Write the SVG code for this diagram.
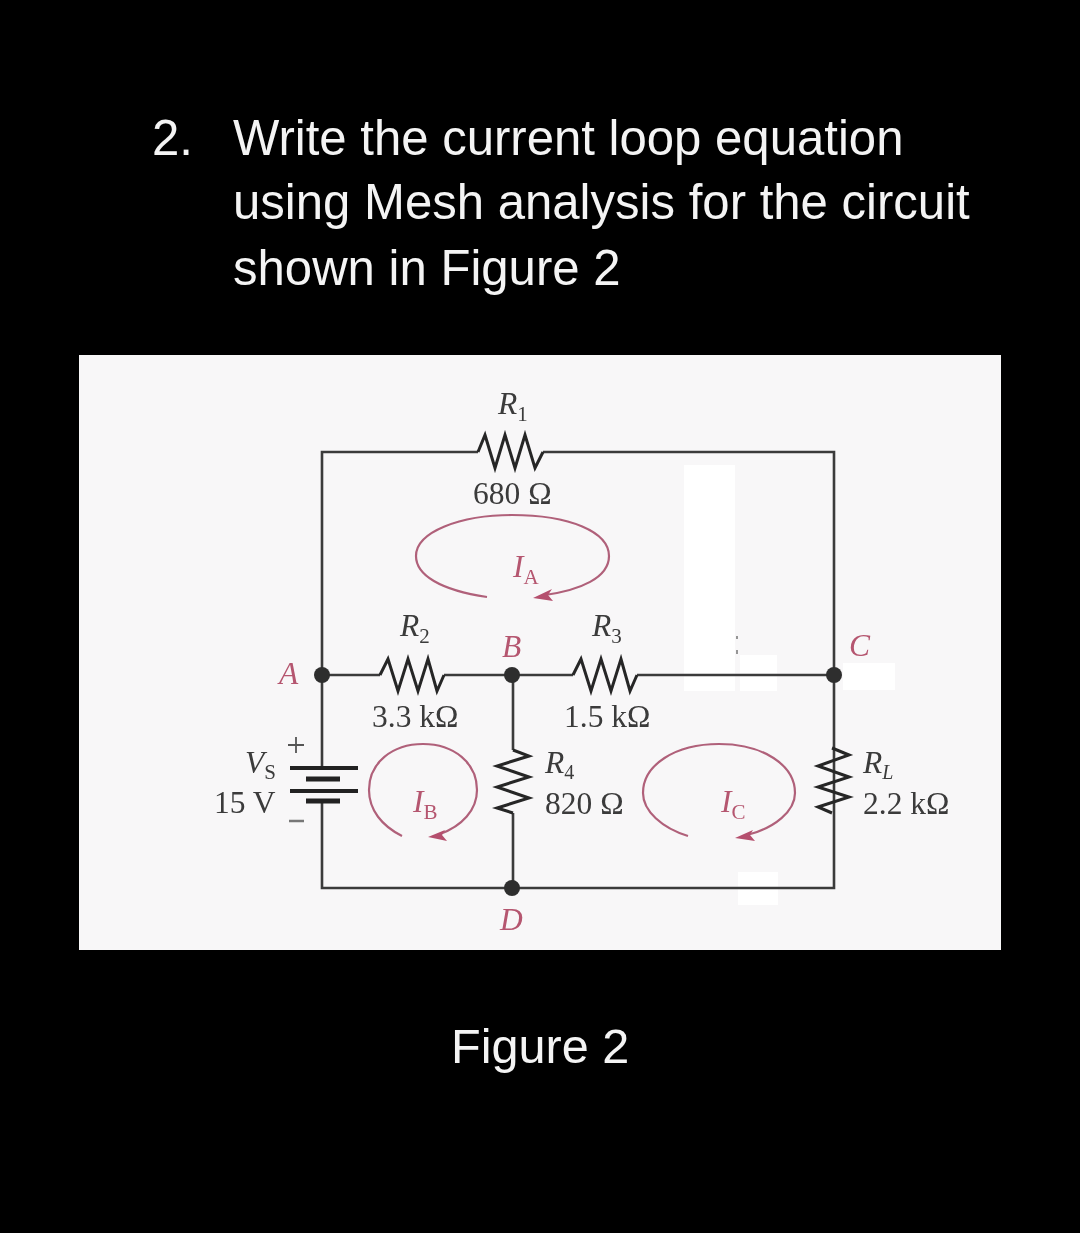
<svg xmlns="http://www.w3.org/2000/svg" width="1080" height="1233" viewBox="0 0 1080 1233">
<style>
.q{font-family:"Liberation Sans",Arial,sans-serif;font-size:49.1px;fill:#f4f4f4}
.v{font-family:"Liberation Serif","Times New Roman",serif;font-size:31.5px;fill:#3a3a3a}
.i{font-style:italic}
.n{font-style:normal}
.p{fill:#b5566f}
.s{font-size:21px}
.t{font-size:20px}
.w{fill:none;stroke:#3b3b3b;stroke-width:2.6}
.z{fill:none;stroke:#262626;stroke-width:3;stroke-linejoin:miter}
.l{fill:none;stroke:#b0617a;stroke-width:2.2}
.a{fill:#b5506e}
.b{stroke:#222;fill:none}
.d{fill:#2f2f2f}
.m{fill:#fff}
</style>
<defs><filter id="soft" x="-5%" y="-5%" width="110%" height="110%"><feGaussianBlur stdDeviation="0.45"/></filter></defs>
<rect width="1080" height="1233" fill="#000"/>
<g id="question">
<text class="q" x="152" y="155">2.</text>
<text class="q" x="233" y="155">Write the current loop equation</text>
<text class="q" x="233" y="219">using Mesh analysis for the circuit</text>
<text class="q" x="233" y="285">shown in Figure 2</text>
</g>
<rect id="panel" x="79" y="355" width="922" height="595" fill="#f8f7f8"/>
<g id="circuit" filter="url(#soft)">
<g id="patches">
<rect class="m" x="684" y="465" width="51" height="226"/>
<rect class="m" x="740" y="655" width="37" height="36"/>
<rect class="m" x="843" y="663" width="52" height="27"/>
<rect class="m" x="738" y="872" width="40" height="33"/>
<path d="M737 636v3M737 650v4" stroke="#777" stroke-width="1.5"/>
</g>
<g id="connectors">
<path class="w" d="M478 452H322V768M322 801V888H834V452H543"/>
<path class="w" d="M322 675H380M444 675H573M637 675H834"/>
<path class="w" d="M513 675V750M513 813V888"/>
</g>
<g id="R1">
<path class="z" d="M478 452L485 435L495 468L505 435L515 468L525 435L535 468L543 452"/>
<text class="v i" x="498" y="414">R<tspan class="s n" dy="7">1</tspan></text>
<text class="v" x="473" y="504">680 Ω</text>
</g>
<g id="R2">
<path class="z" d="M380 675L388 659L398 691L408 659L418 691L428 659L437 691L444 675"/>
<text class="v i" x="400" y="636">R<tspan class="s n" dy="7">2</tspan></text>
<text class="v" x="372" y="727">3.3 kΩ</text>
</g>
<g id="R3">
<path class="z" d="M573 675L581 659L591 691L601 659L611 691L621 659L630 691L637 675"/>
<text class="v i" x="592" y="636">R<tspan class="s n" dy="7">3</tspan></text>
<text class="v" x="564" y="727">1.5 kΩ</text>
</g>
<g id="R4">
<path class="z" d="M513 750L529 756L497 766L529 777L497 787L529 798L497 808L513 813"/>
<text class="v i" x="545" y="773">R<tspan class="t n" dy="6">4</tspan></text>
<text class="v" x="545" y="814">820 Ω</text>
</g>
<g id="RL">
<path class="z" d="M832 748L849 755L818 766L849 777L818 787L849 797L818 807L832 813"/>
<text class="v i" x="863" y="773">R<tspan class="t" dy="6">L</tspan></text>
<text class="v" x="863" y="814">2.2 kΩ</text>
</g>
<g id="VS">
<path class="b" stroke-width="4" d="M290 768H358M290 791H358"/>
<path class="b" stroke-width="5" d="M306 779H340M306 801H340"/>
<path d="M288 745H304M296 737V753" stroke="#555" stroke-width="1.8"/>
<path d="M289 821H304" stroke="#777" stroke-width="2.5"/>
<text class="v i" x="245" y="773">V<tspan class="s n" dy="6">S</tspan></text>
<text class="v" x="214" y="813">15 V</text>
</g>
<g id="node-A"><circle class="d" cx="322" cy="675" r="8"/><text class="v i p" x="279" y="684">A</text></g>
<g id="node-B"><circle class="d" cx="512" cy="675" r="8"/><text class="v i p" x="502" y="657">B</text></g>
<g id="node-C"><circle class="d" cx="834" cy="675" r="8"/><text class="v i p" x="849" y="656">C</text></g>
<g id="node-D"><circle class="d" cx="512" cy="888" r="8"/><text class="v i p" x="500" y="930">D</text></g>
<g id="loop-A">
<path class="l" d="M487 597C440 590 416 575 416 556C416 532 460 515 512 515C570 515 609 532 609 556C609 578 580 590 545 595"/>
<path class="a" d="M533 598L552 589L548 595L553 601Z"/>
<text class="v i p" x="513" y="577">I<tspan class="s n" dy="7">A</tspan></text>
</g>
<g id="loop-B">
<path class="l" d="M402 836C382 826 369 810 369 790C369 763 392 744 423 744C454 744 477 763 477 790C477 810 462 826 440 834"/>
<path class="a" d="M428 837L445 830L442 835L447 841Z"/>
<text class="v i p" x="413" y="812">I<tspan class="s n" dy="7">B</tspan></text>
</g>
<g id="loop-C">
<path class="l" d="M688 836C662 828 643 811 643 793C643 765 675 744 719 744C763 744 795 765 795 793C795 811 775 828 747 835"/>
<path class="a" d="M735 838L753 830L750 835L755 841Z"/>
<text class="v i p" x="721" y="812">I<tspan class="s n" dy="7">C</tspan></text>
</g>
</g>
<text id="caption" class="q" x="451" y="1063" style="font-size:48.6px">Figure 2</text>
</svg>
